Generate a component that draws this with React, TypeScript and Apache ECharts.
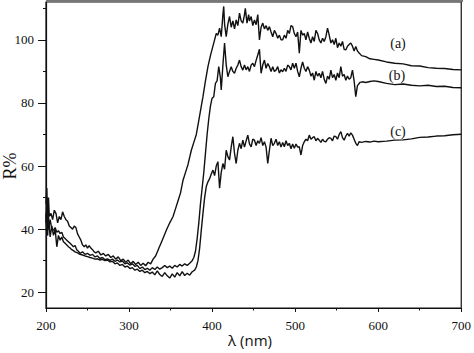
import React, { useEffect, useRef } from "react";
import * as echarts from "echarts";

const xTicks = [200, 300, 400, 500, 600, 700];
const yMajorTicks = [20, 40, 60, 80, 100];
const yMinorTicks = [30, 50, 70, 90, 110];
const curveLabels = ["(a)", "(b)", "(c)"];

const seriesA: [number, number][] = [
  [200, 48], [201, 53], [202, 42], [203, 50], [204, 44], [206, 45], [208, 43], [210, 46], [212, 45], [214, 42],
  [216, 44], [218, 43], [220, 45.5], [222, 44], [224, 43], [226, 42.5], [228, 41], [230, 40.5], [232, 40], [234, 41],
  [236, 40.5], [238, 38.5], [240, 37.5], [242, 36.5], [244, 35], [246, 34.4], [248, 35], [250, 34], [252, 34.8], [254, 34],
  [256, 33.5], [258, 32.8], [260, 32.5], [263, 33], [266, 31.8], [269, 32.3], [272, 31.5], [275, 32], [278, 31], [281, 31.5],
  [284, 30.5], [287, 31.2], [290, 30], [293, 30.5], [296, 29.5], [299, 30.2], [302, 29], [305, 29.8], [308, 28.8], [311, 29.5],
  [314, 28.5], [317, 29.2], [320, 28.4], [323, 29.5], [326, 29], [329, 30.5], [332, 31.5], [336, 34], [340, 36.5], [345, 39.7],
  [349, 42], [353, 44], [356, 46.5], [359, 49], [362, 51.5], [365, 55.5], [368, 58], [371, 60.5], [375, 65], [378, 67.5],
  [381, 70], [384, 74.5], [387, 79], [389, 82], [392, 87], [395, 91.5], [398, 95], [401, 98], [403, 100], [405, 102],
  [407, 101.5], [409, 103.7], [411, 101], [413, 108], [414, 110.6], [415, 105], [417, 101], [419, 105], [421, 107.4], [423, 104],
  [425, 106], [427, 103.5], [429, 106.3], [431, 104.5], [433, 108.5], [435, 106], [437, 105.3], [439, 108], [440, 110], [442, 105.3],
  [444, 108], [445, 106], [447, 107.4], [449, 104.5], [451, 106.3], [453, 104.8], [455, 108], [457, 100], [459, 104], [461, 105.3],
  [463, 103.5], [465, 104.5], [467, 103], [469, 104.2], [471, 102.5], [473, 101], [475, 103], [477, 102], [479, 100.5], [481, 101.5],
  [483, 100], [485, 100], [487, 101.5], [489, 100.5], [491, 103], [493, 102], [495, 104.5], [497, 104.2], [499, 102], [501, 101],
  [503, 102.5], [505, 95.8], [507, 103], [509, 101.5], [511, 102], [513, 100], [515, 102.5], [517, 100.5], [519, 99], [521, 101],
  [523, 99.5], [525, 103], [527, 102], [529, 100], [531, 99], [533, 100.5], [535, 99.5], [537, 101], [539, 103.7], [541, 101.5],
  [543, 99], [545, 100], [547, 98.5], [549, 100.5], [551, 97.5], [553, 99], [555, 98], [557, 99.5], [559, 97], [561, 96.8],
  [563, 98], [565, 98.5], [567, 99], [569, 98], [571, 96.5], [573, 97.9], [575, 96.5], [577, 95.8], [580, 95], [585, 94.7],
  [590, 94], [595, 93.8], [600, 93.6], [610, 93], [620, 92.6], [630, 92.4], [640, 91.8], [650, 91.7], [660, 91.2], [670, 91],
  [680, 90.9], [690, 90.6], [700, 90.5],
];

const seriesB: [number, number][] = [
  [200, 45], [201, 38], [202, 47], [203, 40], [205, 43], [207, 40], [209, 39.7], [211, 40.5], [213, 39], [215, 39.5],
  [217, 38.6], [219, 39], [221, 37.5], [223, 37], [225, 36.5], [227, 36], [229, 35.5], [231, 35], [233, 34.4], [235, 34.8],
  [237, 33.5], [239, 33], [241, 32.3], [244, 32.8], [247, 32], [250, 32.3], [253, 31.7], [256, 32], [259, 31.2], [262, 31.5],
  [265, 30.7], [268, 31], [271, 30.3], [274, 30.6], [277, 30.1], [280, 30.5], [283, 29.8], [286, 30.2], [289, 29.6], [292, 29.9],
  [295, 29], [298, 29.3], [301, 28.6], [304, 29], [307, 28.2], [310, 28.5], [313, 27.5], [316, 28], [319, 27.2], [322, 27.6],
  [325, 27], [328, 27.8], [331, 27.2], [334, 28], [337, 27.3], [340, 27.8], [343, 28.5], [346, 27.8], [349, 28.3], [352, 27.6],
  [355, 28.5], [358, 28], [361, 28.8], [364, 28.3], [367, 29], [370, 28.5], [373, 29.2], [376, 30], [378, 31], [380, 33],
  [382, 37], [384, 42], [386, 48], [388, 53], [390, 58], [392, 64], [394, 70], [396, 75], [398, 79], [400, 81.5],
  [402, 82], [404, 86.2], [406, 87], [408, 91.5], [410, 88], [411, 84.1], [413, 92], [415, 99], [417, 92], [419, 88.3],
  [421, 90], [423, 91.5], [425, 90], [427, 89.4], [429, 91], [431, 92], [433, 93.6], [435, 91.5], [437, 90.4], [439, 92],
  [441, 90.5], [443, 91.5], [445, 90], [447, 92], [449, 92.6], [451, 91.5], [453, 93.5], [455, 95.2], [457, 97], [459, 89.4],
  [461, 92], [463, 93.6], [465, 91], [467, 92.5], [469, 91.5], [471, 90], [473, 91.5], [475, 90], [477, 90.4], [479, 91.5],
  [481, 89.5], [483, 90.5], [485, 89.9], [487, 91], [489, 90], [491, 92], [493, 91.5], [495, 90.5], [497, 92.6], [499, 91],
  [501, 92.6], [503, 90], [505, 88.3], [507, 91], [509, 93], [511, 91], [513, 90], [515, 91.5], [517, 90.4], [519, 88.5],
  [521, 89.5], [523, 87.2], [525, 90], [527, 88.5], [529, 89.4], [531, 88], [533, 90], [535, 87.5], [537, 86.2], [539, 88.5],
  [541, 87.5], [543, 90.4], [545, 88], [547, 89], [549, 87.2], [551, 89.5], [553, 88], [555, 91.5], [557, 88.5], [559, 89],
  [561, 87.2], [563, 88.5], [565, 87.5], [567, 88], [569, 90.4], [571, 87], [573, 82], [575, 85.5], [578, 86.5], [581, 86.7],
  [585, 86.5], [590, 86.8], [595, 87], [600, 86.8], [610, 86.2], [620, 85.8], [630, 86], [640, 85.6], [650, 85.4], [660, 85.6],
  [670, 85.2], [680, 85.3], [690, 84.9], [700, 84.8],
];

const seriesC: [number, number][] = [
  [200, 42], [201, 48], [202, 38], [203, 44], [205, 37.5], [207, 41], [209, 38], [211, 40], [213, 34.4], [215, 38],
  [217, 36.5], [219, 37.5], [221, 36], [223, 35.5], [225, 35], [227, 34.4], [229, 34], [231, 33.5], [233, 33.2], [235, 32.8],
  [238, 32.5], [241, 32], [244, 31.8], [247, 31.5], [250, 31.3], [253, 31], [256, 30.8], [259, 30.5], [262, 30.6], [265, 30.2],
  [268, 30.4], [271, 30], [274, 30.2], [277, 29.6], [280, 29.8], [283, 29], [286, 29.3], [289, 28.5], [292, 28.8], [295, 28],
  [298, 28.3], [301, 27.5], [304, 27.8], [307, 27], [310, 27.3], [313, 26.6], [316, 27], [319, 26.2], [322, 26.6], [325, 25.9],
  [328, 26.4], [331, 25.5], [334, 26.8], [337, 25.6], [340, 25], [343, 26.2], [346, 25.2], [349, 24.5], [352, 25.8], [355, 24.8],
  [358, 26.2], [361, 25.2], [364, 26.5], [367, 25.3], [370, 26], [373, 25.4], [376, 26.5], [379, 27], [381, 28], [383, 30],
  [385, 34], [387, 39.7], [389, 45], [391, 50], [393, 53.5], [395, 55], [397, 56], [399, 57.5], [401, 58.7], [403, 57],
  [405, 60], [407, 61.4], [409, 53], [411, 58], [413, 60.8], [415, 59], [417, 65], [419, 63], [421, 61.9], [423, 66],
  [425, 69.3], [427, 64], [429, 60.8], [431, 65], [433, 67.2], [435, 65.5], [437, 68.2], [439, 66], [441, 68], [443, 69.8],
  [445, 67], [447, 66.1], [449, 68.5], [451, 68.2], [453, 66.5], [455, 68], [457, 67.2], [459, 69], [461, 66.5], [463, 67.7],
  [465, 66], [467, 60.8], [469, 65], [471, 68.8], [473, 66.5], [475, 67.2], [477, 68.5], [479, 66.5], [481, 67.7], [483, 66],
  [485, 67.5], [487, 66.1], [489, 68], [491, 66.5], [493, 67.2], [495, 65.5], [497, 67], [499, 65.6], [501, 67], [503, 66],
  [505, 66.1], [507, 63.5], [509, 66.5], [511, 67.7], [513, 68.5], [515, 68], [517, 69.8], [519, 68.5], [521, 69], [523, 69.3],
  [525, 68], [527, 68.8], [529, 68.2], [531, 67.5], [533, 68.5], [535, 67.8], [537, 67.7], [539, 68.5], [541, 69], [543, 68.8],
  [545, 68], [547, 69.5], [549, 69.3], [551, 68.5], [553, 70], [555, 70.9], [557, 69], [559, 68.2], [561, 69.5], [563, 70.4],
  [565, 69.5], [567, 70.5], [569, 69.8], [571, 68.5], [573, 67.2], [575, 66.5], [577, 67.7], [580, 67.5], [585, 67.8], [590, 67.6],
  [595, 67.9], [600, 67.7], [610, 67.9], [620, 68.2], [630, 68.3], [640, 68.6], [650, 69.1], [660, 69.2], [670, 69.5], [680, 69.6],
  [690, 69.9], [700, 70.1],
];

const SERIF = "'Liberation Serif', 'DejaVu Serif', serif";

export default function App() {
  const ref = useRef<HTMLDivElement>(null);

  useEffect(() => {
    document.body.style.margin = "0";
    if (!ref.current) return;
    const chart = echarts.init(ref.current, null, { renderer: "svg" });
    const lineStyle = { color: "#111", width: 1.4 };
    chart.setOption({
      animation: false,
      backgroundColor: "#fff",
      grid: {
        left: 46,
        right: 12,
        top: 2,
        bottom: 45,
        show: true,
        borderColor: "#111",
        borderWidth: 1.2,
        backgroundColor: "transparent",
      },
      xAxis: {
        type: "value",
        min: 200,
        max: 700,
        interval: 100,
        axisLine: { show: true, onZero: false, lineStyle: { color: "#111", width: 1.2 } },
        axisTick: { show: true, inside: false, length: 4, lineStyle: { color: "#111" } },
        minorTick: { show: true, splitNumber: 2, length: 2.5, lineStyle: { color: "#111" } },
        splitLine: { show: false },
        axisLabel: {
          margin: 11,
          fontFamily: SERIF,
          fontSize: 13,
          color: "#111",
          customValues: xTicks,
        },
      },
      yAxis: [
        {
          type: "value",
          min: 15,
          max: 112,
          axisLine: { show: true, onZero: false, lineStyle: { color: "#111", width: 1.2 } },
          axisTick: { show: true, inside: false, length: 8, customValues: yMajorTicks, lineStyle: { color: "#111" } },
          splitLine: { show: false },
          axisLabel: {
            margin: 12,
            fontFamily: SERIF,
            fontSize: 13,
            color: "#111",
            customValues: yMajorTicks,
          },
        },
        {
          type: "value",
          position: "left",
          min: 15,
          max: 112,
          axisLine: { show: false },
          axisTick: { show: true, inside: false, length: 3, customValues: yMinorTicks, lineStyle: { color: "#111" } },
          axisLabel: { show: false },
          splitLine: { show: false },
        },
      ],
      series: [seriesA, seriesB, seriesC].map((d, i) => ({
        type: "line",
        name: curveLabels[i],
        data: d,
        yAxisIndex: 0,
        showSymbol: false,
        symbol: "none",
        lineStyle,
        z: 3,
      })),
      graphic: [
        { type: "rect", shape: { x: 46, y: 0, width: 417, height: 2 }, style: { fill: "#777" }, z: 10 },
        {
          type: "text",
          x: 10,
          y: 166,
          rotation: Math.PI / 2,
          style: { text: "R%", fontFamily: SERIF, fontSize: 18, fill: "#111", align: "center", verticalAlign: "middle" },
        },
        {
          type: "text",
          x: 250,
          y: 340,
          style: { text: "λ (nm)", fontFamily: "'Open Sans', 'DejaVu Sans', sans-serif", fontSize: 15, fill: "#111", align: "center", verticalAlign: "middle" },
        },
        { type: "text", x: 398, y: 43, style: { text: curveLabels[0], fontFamily: SERIF, fontSize: 14, fill: "#111", align: "center", verticalAlign: "middle" } },
        { type: "text", x: 397, y: 75, style: { text: curveLabels[1], fontFamily: SERIF, fontSize: 14, fill: "#111", align: "center", verticalAlign: "middle" } },
        { type: "text", x: 398, y: 131, style: { text: curveLabels[2], fontFamily: SERIF, fontSize: 14, fill: "#111", align: "center", verticalAlign: "middle" } },
      ],
    });
    return () => chart.dispose();
  }, []);

  return <div ref={ref} style={{ width: 474, height: 353 }} />;
}
